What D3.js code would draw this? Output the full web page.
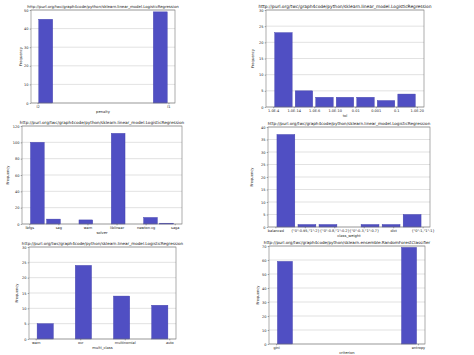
<!DOCTYPE html>
<html><head><meta charset="utf-8">
<script src="https://cdn.jsdelivr.net/npm/d3@7"></script>
<style>body{margin:0;background:#fff}svg{display:block}</style>
</head><body>
<svg id="c" width="474" height="355"></svg>
<script>
// ---- data ----
const lrTitle = "http://purl.org/twc/graph4code/python/sklearn.linear_model.LogisticRegression";
const rfTitle = "http://purl.org/twc/graph4code/python/sklearn.ensemble.RandomForestClassifier";

const penaltyLabels = ["l2", "l1"];
const penaltyCounts = [45, 49];

const tolLabels = ["1.0E-4", "1.0E-14", "1.0E-6", "1.0E-10", "0.01", "0.001", "0.1", "1.0E-20"];
const tolCounts = [23, 5, 3, 3, 3, 2, 2, 2];

const solverLabels = ["lbfgs", "sag", "warn", "liblinear", "newton-cg", "saga"];
const solverCounts = [100, 6, 5, 111, 8, 1];

const classWeightLabels = ["balanced", "{\"0\":0.95,\"1\":2}", "{\"0\":0.8,\"1\":0.2}", "{\"0\":0.3,\"1\":0.7}", "dict", "{\"0\":1,\"1\":1}"];
const classWeightCounts = [37, 1, 1, 1, 1, 5];

const multiClassLabels = ["warn", "ovr", "multinomial", "auto"];
const multiClassCounts = [5, 24, 14, 11];

const criterionLabels = ["gini", "entropy"];
const criterionCounts = [59, 69];

const histBins = [8, 7, 9, 7, 7, 8];
const yTickSteps = [10, 5, 20, 5, 5, 10];

// ---- layout ----
const panels = [
  {title: lrTitle, xlabel: "penalty", labels: penaltyLabels, counts: penaltyCounts, box: [31, 175, 10, 103], ylab: 9, tw: 152, ts: 0.9},
  {title: lrTitle, xlabel: "tol", labels: tolLabels, counts: tolCounts, box: [266, 424, 10, 107], ylab: 12, tw: 174, ts: 1.0},
  {title: lrTitle, xlabel: "solver", labels: solverLabels, counts: solverCounts, box: [22, 182, 126, 224], ylab: 13, tw: 165, ts: 1.0},
  {title: lrTitle, xlabel: "class_weight", labels: classWeightLabels, counts: classWeightCounts, box: [268, 430, 127, 227], ylab: 15, tw: 163, ts: 1.0},
  {title: lrTitle, xlabel: "multi_class", labels: multiClassLabels, counts: multiClassCounts, box: [29, 176, 247, 339], ylab: 11, tw: 162, ts: 1.0},
  {title: rfTitle, xlabel: "criterion", labels: criterionLabels, counts: criterionCounts, box: [269, 425, 246, 344], ylab: 10, tw: 167, ts: 1.0}
];

const svg = d3.select("#c");
const FONT = "DejaVu Sans, sans-serif";
const barFill = "#504fc3";

panels.forEach((p, i) => {
  const [x0, x1, y0, y1] = p.box;
  const n = p.labels.length;
  const nb = histBins[i];
  const span = n - 1;
  const pad = span * 0.05;
  const x = d3.scaleLinear().domain([-pad, span + pad]).range([x0, x1]);
  const maxf = d3.max(p.counts);
  const yMax = maxf % 10 ? Math.ceil(maxf / 10) * 10 : maxf + 10;
  const y = d3.scaleLinear().domain([0, yMax]).range([y1, y0]);
  const g = svg.append("g");

  const bw = span / nb;
  const bins = new Array(nb).fill(0);
  p.counts.forEach((c, k) => {
    let b = Math.floor(k / bw + 1e-9);
    if (b >= nb) b = nb - 1;
    bins[b] += c;
  });

  const yt = d3.range(0, yMax + 0.001, yTickSteps[i]);
  g.selectAll(".grid").data(yt).join("line")
    .attr("x1", x0).attr("x2", x1)
    .attr("y1", d => y(d)).attr("y2", d => y(d))
    .attr("stroke", "#cfcfcf").attr("stroke-width", 0.6);

  const rw = 0.85;
  g.selectAll(".bar").data(bins.map((c, b) => ({c, b})).filter(d => d.c > 0)).join("rect")
    .attr("x", d => x(d.b * bw + bw * (1 - rw) / 2))
    .attr("width", d => x(bw * rw) - x(0))
    .attr("y", d => y(d.c))
    .attr("height", d => y(0) - y(d.c))
    .attr("fill", barFill)
    .attr("stroke", "#3a39a8").attr("stroke-width", 0.4);

  g.append("rect").attr("x", x0).attr("y", y0).attr("width", x1 - x0).attr("height", y1 - y0)
    .attr("fill", "none").attr("stroke", "#777").attr("stroke-width", 0.6);

  const ya = d3.axisLeft(y).tickValues(yt).tickSize(1.3).tickPadding(1.2).tickFormat(d3.format("d"));
  const yg = g.append("g").attr("transform", `translate(${x0},0)`).call(ya);
  const xa = d3.axisBottom(x).tickValues(d3.range(n)).tickSize(1.3).tickPadding(1).tickFormat(k => p.labels[k]);
  const xg = g.append("g").attr("transform", `translate(0,${y1})`).call(xa);
  [yg, xg].forEach(a => {
    a.select(".domain").remove();
    a.selectAll("line").attr("stroke", "#555").attr("stroke-width", 0.5);
    a.selectAll("text").attr("font-family", FONT).attr("font-size", 3.5).attr("fill", "#222");
  });

  const t = g.append("text").attr("x", (x0 + x1) / 2).attr("y", y0 - 2.3)
    .attr("text-anchor", "middle").attr("font-family", FONT).attr("font-size", 10).attr("fill", "#111")
    .text(p.title);
  const w10 = t.node().getComputedTextLength();
  t.attr("font-size", 10 * p.tw / w10);

  g.append("text").attr("x", (x0 + x1) / 2).attr("y", y1 + 10)
    .attr("text-anchor", "middle").attr("font-family", FONT).attr("font-size", 3.7).attr("fill", "#222")
    .text(p.xlabel);
  g.append("text").attr("transform", `translate(${x0 - p.ylab},${(y0 + y1) / 2}) rotate(-90)`)
    .attr("text-anchor", "middle").attr("font-family", FONT).attr("font-size", 3.7).attr("fill", "#222")
    .text("Frequency");
});
</script>
</body></html>
